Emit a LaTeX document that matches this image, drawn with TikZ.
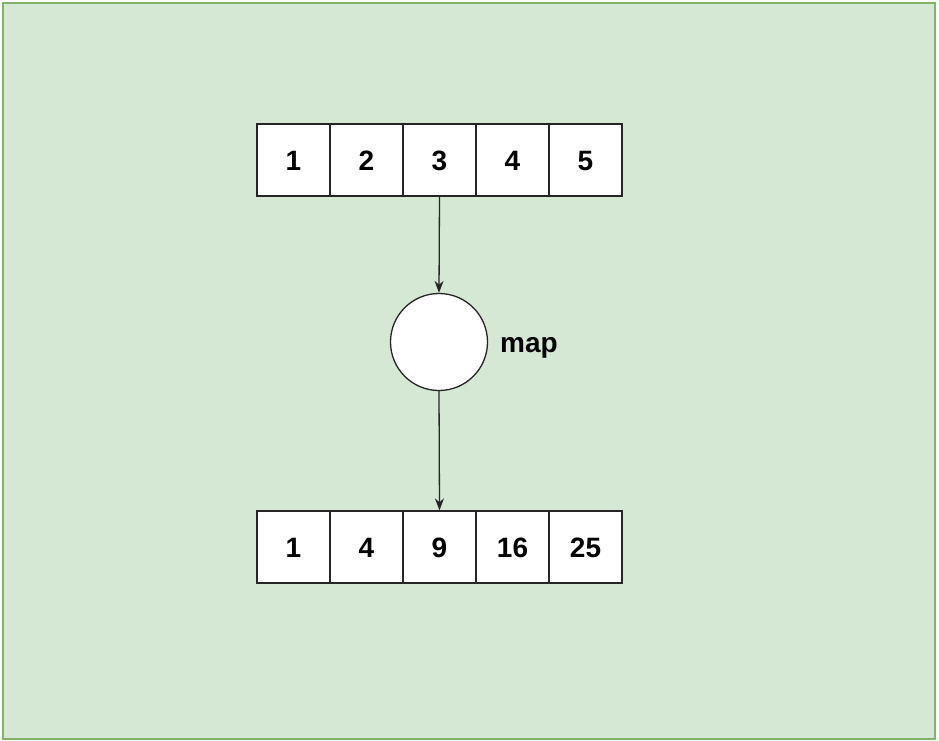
\documentclass[tikz,border=0pt]{standalone}
\usepackage{fontspec}
\setmainfont{Liberation Sans}
\usetikzlibrary{arrows.meta}
\definecolor{bgfill}{HTML}{D5E8D4}
\definecolor{bgline}{HTML}{82B366}
\begin{document}
\begin{tikzpicture}[x=1pt,y=-1pt,
  cell/.style={draw=black!85,fill=white,line width=1.3pt,minimum width=73pt,minimum height=72pt,inner sep=0pt,text height=20pt,text depth=0pt,font=\bfseries\fontsize{28}{32}\selectfont},
  mapcircle/.style={circle,draw=black!85,fill=white,line width=1.3pt,minimum size=97pt,inner sep=0pt},
  conn/.style={draw=black!85,line width=1.3pt,-{Stealth[length=12pt,width=9pt]}},
  lbl/.style={font=\bfseries\fontsize{28}{32}\selectfont,inner sep=0pt}]
\useasboundingbox (0,0) rectangle (939,741);
\fill[white] (0,0) rectangle (939,741);
\draw[fill=bgfill,draw=bgline,line width=1.5pt] (3,3) rectangle (935,739);
\foreach \v [count=\i] in {1,2,3,4,5}
  \node[cell] (t\i) at ({257+36.5+73*(\i-1)},160) {\v};
\foreach \v [count=\i] in {1,4,9,16,25}
  \node[cell] (b\i) at ({257+36.5+73*(\i-1)},547) {\v};
\node[mapcircle] (c) at (439,342) {};
\node[lbl,anchor=base west] (m) at (500,352) {map};
\draw[conn] (t3.south) -- (c.north);
\draw[conn] (c.south) -- (b3.north);
\end{tikzpicture}
\end{document}
